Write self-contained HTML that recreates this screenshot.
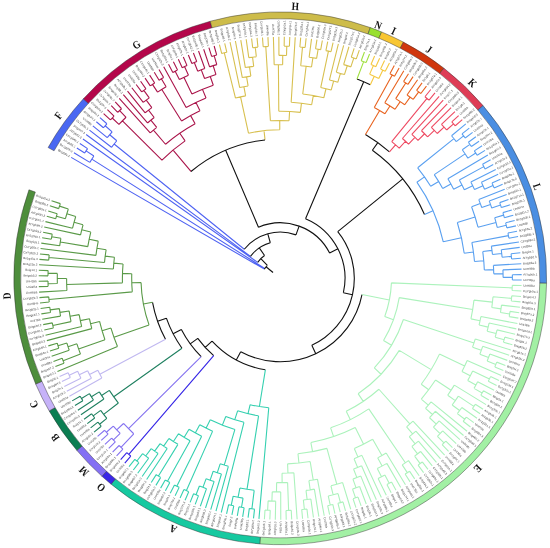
<!DOCTYPE html><html><head><meta charset="utf-8"><style>html,body{margin:0;padding:0;background:#fff}svg{display:block}</style></head><body>
<svg width="550" height="548" viewBox="0 0 550 548">
<rect width="550" height="548" fill="#fff"/>
<path d="M48.11 147.52A266.4 266.4 0 0 1 83.37 98.79L88.39 103.37A259.6 259.6 0 0 0 54.04 150.85Z" fill="#4a68f2" stroke="#333" stroke-opacity="0.65" stroke-width="0.7"/>
<path d="M83.37 98.79A266.4 266.4 0 0 1 210.23 21.25L212.01 27.81A259.6 259.6 0 0 0 88.39 103.37Z" fill="#b4064a" stroke="#333" stroke-opacity="0.65" stroke-width="0.7"/>
<path d="M210.23 21.25A266.4 266.4 0 0 1 370.32 27.61L368.02 34.01A259.6 259.6 0 0 0 212.01 27.81Z" fill="#cdbc4a" stroke="#333" stroke-opacity="0.65" stroke-width="0.7"/>
<path d="M370.32 27.61A266.4 266.4 0 0 1 381.57 31.94L378.98 38.23A259.6 259.6 0 0 0 368.02 34.01Z" fill="#99e030" stroke="#333" stroke-opacity="0.65" stroke-width="0.7"/>
<path d="M381.57 31.94A266.4 266.4 0 0 1 403.42 42.11L400.27 48.14A259.6 259.6 0 0 0 378.98 38.23Z" fill="#f8c632" stroke="#333" stroke-opacity="0.65" stroke-width="0.7"/>
<path d="M403.42 42.11A266.4 266.4 0 0 1 443.92 68.15L439.74 73.51A259.6 259.6 0 0 0 400.27 48.14Z" fill="#d0360c" stroke="#333" stroke-opacity="0.65" stroke-width="0.7"/>
<path d="M443.92 68.15A266.4 266.4 0 0 1 483.04 105.6L477.86 110A259.6 259.6 0 0 0 439.74 73.51Z" fill="#de3c56" stroke="#333" stroke-opacity="0.65" stroke-width="0.7"/>
<path d="M483.04 105.6A266.4 266.4 0 0 1 546.55 283.27L539.75 283.14A259.6 259.6 0 0 0 477.86 110Z" fill="#4a8ee2" stroke="#333" stroke-opacity="0.65" stroke-width="0.7"/>
<path d="M546.55 283.27A266.4 266.4 0 0 1 259.75 543.91L260.27 537.13A259.6 259.6 0 0 0 539.75 283.14Z" fill="#a2f0a4" stroke="#333" stroke-opacity="0.65" stroke-width="0.7"/>
<path d="M259.75 543.91A266.4 266.4 0 0 1 111.1 484.15L115.41 478.89A259.6 259.6 0 0 0 260.27 537.13Z" fill="#16c9a0" stroke="#333" stroke-opacity="0.65" stroke-width="0.7"/>
<path d="M111.1 484.15A266.4 266.4 0 0 1 101.96 476.29L106.51 471.23A259.6 259.6 0 0 0 115.41 478.89Z" fill="#3a26e6" stroke="#333" stroke-opacity="0.65" stroke-width="0.7"/>
<path d="M101.96 476.29A266.4 266.4 0 0 1 76.81 450.35L82 445.95A259.6 259.6 0 0 0 106.51 471.23Z" fill="#8470f4" stroke="#333" stroke-opacity="0.65" stroke-width="0.7"/>
<path d="M76.81 450.35A266.4 266.4 0 0 1 49.16 410.92L55.06 407.54A259.6 259.6 0 0 0 82 445.95Z" fill="#0c7e52" stroke="#333" stroke-opacity="0.65" stroke-width="0.7"/>
<path d="M49.16 410.92A266.4 266.4 0 0 1 35.66 383.99L41.91 381.3A259.6 259.6 0 0 0 55.06 407.54Z" fill="#c6b2f8" stroke="#333" stroke-opacity="0.65" stroke-width="0.7"/>
<path d="M35.66 383.99A266.4 266.4 0 0 1 28.93 189.8L35.34 192.06A259.6 259.6 0 0 0 41.91 381.3Z" fill="#4e8e3c" stroke="#333" stroke-opacity="0.65" stroke-width="0.7"/>
<path d="M84.68 153.05A232.2 232.2 0 0 1 87.56 148.66M84.68 153.05L76.84 148.04M87.56 148.66L79.84 143.47M89.83 162.35A222.9 222.9 0 0 1 93.88 155.95M89.83 162.35L73.95 152.67M93.88 155.95L86.1 150.85M103.42 127.74A232.2 232.2 0 0 1 106.88 123.78M103.42 127.74L96.34 121.71M106.88 123.78L99.93 117.59M107.28 137.65A222.9 222.9 0 0 1 112.15 131.86M107.28 137.65L92.85 125.91M112.15 131.86L105.14 125.75M111.49 147.3A213.6 213.6 0 0 1 116.8 140.73M111.49 147.3L89.45 130.19M116.8 140.73L109.69 134.74M244.28 249.25L114.11 143.99M250.55 256.33L86.15 134.54M257.66 262.38L82.95 138.97M264.36 269.14L71.16 157.37M264.73 268.52L91.83 159.13" fill="none" stroke="#4f63f2" stroke-width="1.1" stroke-linecap="butt"/>
<path d="M110.42 119.9A232.2 232.2 0 0 1 114.04 116.1M110.42 119.9L103.62 113.56M114.04 116.1L107.39 109.6M117.75 112.38A232.2 232.2 0 0 1 121.55 108.75M117.75 112.38L111.25 105.74M121.55 108.75L115.2 101.96M118.95 124.41A222.9 222.9 0 0 1 126.07 117.27M118.95 124.41L112.22 117.99M126.07 117.27L119.64 110.56M141.7 91.93A232.2 232.2 0 0 1 145.95 88.84M141.7 91.93L136.16 84.46M145.95 88.84L140.58 81.25M143.24 102.44A222.9 222.9 0 0 1 149.28 97.9M143.24 102.44L131.81 87.77M149.28 97.9L143.82 90.37M145.17 112.79A213.6 213.6 0 0 1 151.83 107.58M145.17 112.79L127.53 91.18M151.83 107.58L146.24 100.15M147.5 122.96A204.3 204.3 0 0 1 154.21 117.47M147.5 122.96L123.34 94.68M154.21 117.47L148.47 110.15M150.22 132.94A195 195 0 0 1 156.72 127.38M150.22 132.94L119.23 98.27M156.72 127.38L150.83 120.18M150.27 85.85A232.2 232.2 0 0 1 154.66 82.96M150.27 85.85L145.07 78.14M154.66 82.96L149.63 75.14M159.11 80.17A232.2 232.2 0 0 1 163.63 77.48M159.11 80.17L154.26 72.24M163.63 77.48L158.96 69.44M157.58 92.16A222.9 222.9 0 0 1 166.12 86.8M157.58 92.16L152.46 84.39M166.12 86.8L161.36 78.81M172.83 72.42A232.2 232.2 0 0 1 177.51 70.04M172.83 72.42L168.53 64.17M177.51 70.04L173.4 61.7M182.25 67.77A232.2 232.2 0 0 1 187.04 65.61M182.25 67.77L178.33 59.34M187.04 65.61L183.31 57.09M179.37 79.51A222.9 222.9 0 0 1 188.47 75.15M179.37 79.51L175.17 71.21M188.47 75.15L184.64 66.68M191.88 63.55A232.2 232.2 0 0 1 196.76 61.61M191.88 63.55L188.34 54.95M196.76 61.61L193.41 52.93M197.75 71.21A222.9 222.9 0 0 1 204.82 68.53M197.75 71.21L194.31 62.57M204.82 68.53L198.53 51.03M211.64 56.45A232.2 232.2 0 0 1 216.68 54.96M211.64 56.45L208.9 47.57M216.68 54.96L214.14 46.01M209.59 66.88A222.9 222.9 0 0 1 216.8 64.61M209.59 66.88L203.7 49.24M216.8 64.61L214.16 55.69M204.57 78.54A213.6 213.6 0 0 1 215.98 74.58M204.57 78.54L201.28 69.84M215.98 74.58L213.19 65.71M191.93 94.05A204.3 204.3 0 0 1 213.29 85.27M191.93 94.05L183.89 77.28M213.29 85.27L210.25 76.48M186.14 107.48A195 195 0 0 1 206.03 97.96M186.14 107.48L163.71 66.75M206.03 97.96L202.49 89.36M181.58 120.95A185.7 185.7 0 0 1 199.97 110.83M181.58 120.95L161.82 89.43M199.97 110.83L195.95 102.44M165.53 144.26A176.4 176.4 0 0 1 195.11 123.78M165.53 144.26L153.44 130.12M195.11 123.78L190.63 115.63M161.95 160.23A167.1 167.1 0 0 1 185.09 140.91M161.95 160.23L122.47 120.8M185.09 140.91L179.8 133.26M190.97 171.46L173.09 150.05" fill="none" stroke="#aa144a" stroke-width="1.1" stroke-linecap="butt"/>
<path d="M221.75 53.58A232.2 232.2 0 0 1 226.85 52.31M221.75 53.58L219.41 44.58M226.85 52.31L224.71 43.26M252.7 47.73A232.2 232.2 0 0 1 257.92 47.17M252.7 47.73L251.6 38.5M257.92 47.17L257.03 37.91M248.8 57.62A222.9 222.9 0 0 1 256.31 56.68M248.8 57.62L246.18 39.21M256.31 56.68L255.31 47.44M245.33 67.56A213.6 213.6 0 0 1 253.7 66.35M245.33 67.56L240.78 40.04M253.7 66.35L252.55 57.12M242.3 77.55A204.3 204.3 0 0 1 250.85 76.12M242.3 77.55L235.4 40.99M250.85 76.12L249.51 66.92M239.7 87.55A195 195 0 0 1 248.1 85.96M239.7 87.55L230.04 42.07M248.1 85.96L246.57 76.79M235.49 98.06A185.7 185.7 0 0 1 245.62 95.85M235.49 98.06L224.3 52.93M245.62 95.85L243.89 86.71M263.16 46.73A232.2 232.2 0 0 1 268.4 46.4M263.16 46.73L262.47 37.45M268.4 46.4L267.93 37.11M284.16 46.13A232.2 232.2 0 0 1 289.41 46.28M284.16 46.13L284.31 36.84M289.41 46.28L289.78 36.99M278.95 55.4A222.9 222.9 0 0 1 286.52 55.49M278.95 55.4L278.85 36.8M286.52 55.49L286.78 46.19M274.17 64.79A213.6 213.6 0 0 1 282.63 64.71M274.17 64.79L273.39 36.9M282.63 64.71L282.74 55.41M299.89 46.94A232.2 232.2 0 0 1 305.12 47.44M299.89 46.94L300.68 37.67M305.12 47.44L306.12 38.19M315.54 48.8A232.2 232.2 0 0 1 320.72 49.66M315.54 48.8L316.95 39.61M320.72 49.66L322.34 40.51M309.13 57.29A222.9 222.9 0 0 1 316.61 58.39M309.13 57.29L311.54 38.84M316.61 58.39L318.13 49.22M300.72 65.69A213.6 213.6 0 0 1 311.51 67.01M300.72 65.69L302.51 47.17M311.51 67.01L312.88 57.81M325.88 50.64A232.2 232.2 0 0 1 331.02 51.73M325.88 50.64L327.71 41.52M331.02 51.73L333.06 42.66M351.29 57.25A232.2 232.2 0 0 1 356.27 58.92M351.29 57.25L354.14 48.4M356.27 58.92L359.32 50.13M343.63 64.61A222.9 222.9 0 0 1 350.84 66.89M343.63 64.61L348.92 46.78M350.84 66.89L353.79 58.07M336.33 72.21A213.6 213.6 0 0 1 344.44 74.59M336.33 72.21L343.66 45.29M344.44 74.59L347.24 65.72M329.41 80.02A204.3 204.3 0 0 1 337.78 82.28M329.41 80.02L338.38 43.91M337.78 82.28L340.4 73.36M320.72 87.56A195 195 0 0 1 331.18 90.08M320.72 87.56L328.46 51.17M331.18 90.08L333.61 81.1M302.74 93.97A185.7 185.7 0 0 1 323.79 97.79M302.74 93.97L306.13 66.28M323.79 97.79L325.97 88.75M291.18 102.24A176.4 176.4 0 0 1 311.66 104.73M291.18 102.24L295.23 37.27M311.66 104.73L313.32 95.58M278.79 111.21A167.1 167.1 0 0 1 300.34 112.42M278.79 111.21L278.4 64.71M300.34 112.42L301.46 103.19M270.4 120.8A157.8 157.8 0 0 1 289.06 120.75M270.4 120.8L265.78 46.55M289.06 120.75L289.58 111.46M248.49 133.23A148.5 148.5 0 0 1 279.76 129.8M248.49 133.23L240.54 96.88M279.76 129.8L279.73 120.5M265.04 139.93L264.03 130.68" fill="none" stroke="#d8c050" stroke-width="1.1" stroke-linecap="butt"/>
<path d="M190.97 171.46A139.2 139.2 0 0 1 265.04 139.93M356.99 78.98A213.6 213.6 0 0 1 370.33 84.65M365.44 134.57A167.1 167.1 0 0 1 389.45 151.86M372.39 150.23A157.8 157.8 0 0 1 424.5 214.45M372.39 150.23L377.82 142.68M165.5 339.27A129.9 129.9 0 0 1 152.53 302.29M181.95 348.24A120.6 120.6 0 0 1 166.39 318.19M166.39 318.19L157.61 321.27M201.18 356.68A111.3 111.3 0 0 1 181.37 329.49M181.37 329.49L173.11 333.77M213.69 355.63A102 102 0 0 1 197.76 338.36M197.76 338.36L190.24 343.84M265.36 369.8A92.7 92.7 0 0 1 212.06 341.15M212.06 341.15L205.22 347.46M362 294.56A83.4 83.4 0 0 1 240.71 351.76M240.71 351.76L236.3 359.95M337.74 231.61A74.1 74.1 0 0 1 311.81 345.32M337.74 231.61L402.73 178.86M311.81 345.32L315.77 353.73M305.53 218.66A64.8 64.8 0 0 1 343.38 292.71M305.53 218.66L363.71 81.7M343.38 292.71L352.45 294.78M258.46 227.23A55.5 55.5 0 0 1 329.62 253.04M258.46 227.23L225.68 150.22M329.62 253.04L337.9 248.81M244.28 249.25A46.2 46.2 0 0 1 295.95 234.87M295.95 234.87L299.12 226.13M250.55 256.33A36.9 36.9 0 0 1 270.31 242.75M270.31 242.75L267.81 233.79M257.66 262.38A27.6 27.6 0 0 1 264.56 255.56M264.56 255.56L259.29 247.89M264.36 269.14A18.3 18.3 0 0 1 267.34 265.28M267.34 265.28L260.81 258.66" fill="none" stroke="#111111" stroke-width="1.1" stroke-linecap="butt"/>
<path d="M361.22 60.69A232.2 232.2 0 0 1 366.12 62.58M361.22 60.69L364.46 51.98M366.12 62.58L369.56 53.94M356.99 78.98L363.67 61.62" fill="none" stroke="#a0e040" stroke-width="1.1" stroke-linecap="butt"/>
<path d="M370.98 64.58A232.2 232.2 0 0 1 375.79 66.69M370.98 64.58L374.61 56.02M375.79 66.69L379.62 58.21M380.55 68.9A232.2 232.2 0 0 1 385.26 71.23M380.55 68.9L384.57 60.52M385.26 71.23L389.47 62.93M369.66 74.14A222.9 222.9 0 0 1 378.8 78.39M369.66 74.14L373.39 65.62M378.8 78.39L382.91 70.05M370.33 84.65L374.25 76.21" fill="none" stroke="#f5c840" stroke-width="1.1" stroke-linecap="butt"/>
<path d="M389.92 73.66A232.2 232.2 0 0 1 394.52 76.19M389.92 73.66L394.32 65.46M394.52 76.19L399.1 68.1M403.55 81.57A232.2 232.2 0 0 1 407.97 84.41M403.55 81.57L408.49 73.69M407.97 84.41L413.08 76.65M416.61 90.39A232.2 232.2 0 0 1 420.82 93.52M416.61 90.39L422.07 82.86M420.82 93.52L426.45 86.12M407.03 95A222.9 222.9 0 0 1 413.17 99.41M407.03 95L417.61 79.7M413.17 99.41L418.72 91.94M395.71 98.62A213.6 213.6 0 0 1 404.7 104.73M395.71 98.62L405.76 82.98M404.7 104.73L410.12 97.18M384.78 102.8A204.3 204.3 0 0 1 395.02 109.31M384.78 102.8L403.83 70.84M395.02 109.31L400.24 101.62M374.28 107.5A195 195 0 0 1 384.95 113.82M374.28 107.5L392.23 74.91M384.95 113.82L389.95 105.98M365.44 134.57L379.67 110.58" fill="none" stroke="#e8621e" stroke-width="1.1" stroke-linecap="butt"/>
<path d="M424.97 96.75A232.2 232.2 0 0 1 429.04 100.07M424.97 96.75L430.76 89.48M429.04 100.07L435 92.94M451.79 121.86A232.2 232.2 0 0 1 455.28 125.78M451.79 121.86L458.66 115.59M455.28 125.78L462.29 119.67M441.47 124.43A222.9 222.9 0 0 1 446.6 129.99M441.47 124.43L454.93 111.59M446.6 129.99L453.55 123.81M431.37 127.39A213.6 213.6 0 0 1 437.23 133.5M431.37 127.39L451.12 107.68M437.23 133.5L444.06 127.19M421.49 130.73A204.3 204.3 0 0 1 427.62 136.86M421.49 130.73L447.21 103.86M427.62 136.86L434.33 130.42M411.83 134.43A195 195 0 0 1 418.01 140.34M411.83 134.43L443.22 100.13M418.01 140.34L424.58 133.76M402.42 138.49A185.7 185.7 0 0 1 408.53 144.08M402.42 138.49L439.15 96.48M408.53 144.08L414.96 137.35M391.73 141.63A176.4 176.4 0 0 1 399.23 148.11M391.73 141.63L427.01 98.4M399.23 148.11L405.51 141.25M389.45 151.86L395.53 144.82" fill="none" stroke="#ee4a62" stroke-width="1.1" stroke-linecap="butt"/>
<path d="M462 133.85A232.2 232.2 0 0 1 465.22 138M462 133.85L469.28 128.07M465.22 138L472.63 132.38M451.54 135.73A222.9 222.9 0 0 1 456.28 141.62M451.54 135.73L465.84 123.83M456.28 141.62L463.62 135.92M468.35 142.22A232.2 232.2 0 0 1 471.38 146.52M468.35 142.22L475.89 136.77M471.38 146.52L479.04 141.24M474.31 150.87A232.2 232.2 0 0 1 477.15 155.3M474.31 150.87L482.09 145.77M477.15 155.3L485.03 150.37M462.28 149.73A222.9 222.9 0 0 1 467.91 158.09M462.28 149.73L469.88 144.36M467.91 158.09L475.74 153.08M482.51 164.33A232.2 232.2 0 0 1 485.03 168.94M482.51 164.33L490.61 159.77M485.03 168.94L493.24 164.56M491.98 183.08A232.2 232.2 0 0 1 494.08 187.9M491.98 183.08L500.46 179.27M494.08 187.9L502.65 184.28M481.38 182.32A222.9 222.9 0 0 1 484.52 189.2M481.38 182.32L498.16 174.31M484.52 189.2L493.04 185.48M470.85 181.99A213.6 213.6 0 0 1 474.52 189.61M470.85 181.99L495.76 169.41M474.52 189.61L482.98 185.75M459.32 180.05A204.3 204.3 0 0 1 464.34 189.81M459.32 180.05L483.78 166.63M464.34 189.81L472.72 185.78M447.89 178.77A195 195 0 0 1 453.63 189.15M447.89 178.77L487.87 155.04M453.63 189.15L461.9 184.89M434.28 174.64A185.7 185.7 0 0 1 442.7 188.42M434.28 174.64L465.14 153.88M442.7 188.42L450.84 183.92M417.69 167.79A176.4 176.4 0 0 1 430.7 186.29M417.69 167.79L453.93 138.65M430.7 186.29L438.64 181.44M499.72 202.61A232.2 232.2 0 0 1 501.37 207.6M499.72 202.61L508.51 199.58M501.37 207.6L510.23 204.77M489.23 200.9A222.9 222.9 0 0 1 491.73 208.03M489.23 200.9L506.67 194.44M491.73 208.03L500.56 205.1M478.78 199.61A213.6 213.6 0 0 1 481.74 207.53M478.78 199.61L504.72 189.33M481.74 207.53L490.51 204.45M502.92 212.62A232.2 232.2 0 0 1 504.35 217.67M502.92 212.62L511.84 209.99M504.35 217.67L513.32 215.25M505.66 222.76A232.2 232.2 0 0 1 506.86 227.88M505.66 222.76L514.69 220.54M506.86 227.88L515.94 225.86M494.7 217.67A222.9 222.9 0 0 1 497.22 227.44M494.7 217.67L503.65 215.14M497.22 227.44L506.27 225.32M471.58 206.81A204.3 204.3 0 0 1 478 227.19M471.58 206.81L480.3 203.56M478 227.19L496.01 222.54M507.94 233.02A232.2 232.2 0 0 1 508.91 238.18M507.94 233.02L517.06 231.2M508.91 238.18L518.07 236.57M511.1 253.78A232.2 232.2 0 0 1 511.6 259.01M511.1 253.78L520.35 252.8M511.6 259.01L520.87 258.24M501.26 249.76A222.9 222.9 0 0 1 502.11 257.27M501.26 249.76L519.71 247.38M502.11 257.27L511.36 256.4M491.37 246.16A213.6 213.6 0 0 1 492.48 254.55M491.37 246.16L518.95 241.97M492.48 254.55L501.72 253.51M512.37 274.75A232.2 232.2 0 0 1 512.39 280.01M512.37 274.75L521.67 274.61M512.39 280.01L521.69 280.07M502.94 269.85A222.9 222.9 0 0 1 503.1 277.42M502.94 269.85L521.53 269.15M503.1 277.42L512.4 277.38M493.41 265.38A213.6 213.6 0 0 1 493.75 273.83M493.41 265.38L521.26 263.69M493.75 273.83L503.05 273.63M482.74 251.57A204.3 204.3 0 0 1 484.33 269.98M482.74 251.57L491.96 250.35M484.33 269.98L493.62 269.6M471.87 242.44A195 195 0 0 1 474.48 261.55M471.87 242.44L508.44 235.6M474.48 261.55L483.75 260.76M457.32 222.51A185.7 185.7 0 0 1 464.2 253.22M457.32 222.51L475.06 216.92M464.2 253.22L473.41 251.96M416.89 182.18A167.1 167.1 0 0 1 443.26 241.78M416.89 182.18L424.49 176.83M443.26 241.78L461.41 237.72M424.5 214.45L433.01 210.68" fill="none" stroke="#5aa0f0" stroke-width="1.1" stroke-linecap="butt"/>
<path d="M512.3 285.26A232.2 232.2 0 0 1 512.08 290.51M512.3 285.26L521.59 285.54M512.08 290.51L521.37 291M511.74 295.75A232.2 232.2 0 0 1 511.29 300.98M511.74 295.75L521.02 296.45M511.29 300.98L520.54 301.89M510.03 311.41A232.2 232.2 0 0 1 509.22 316.6M510.03 311.41L519.23 312.74M509.22 316.6L518.39 318.14M501.48 305.09A222.9 222.9 0 0 1 500.45 312.58M501.48 305.09L519.95 307.32M500.45 312.58L509.64 314.01M493 296.76A213.6 213.6 0 0 1 491.79 307.56M493 296.76L511.53 298.37M491.79 307.56L501 308.84M504.82 337.14A232.2 232.2 0 0 1 503.43 342.21M504.82 337.14L513.82 339.5M503.43 342.21L512.37 344.77M497.05 329.9A222.9 222.9 0 0 1 495.17 337.22M497.05 329.9L515.14 334.2M495.17 337.22L504.14 339.68M489.06 323.03A213.6 213.6 0 0 1 487.13 331.26M489.06 323.03L516.35 328.87M487.13 331.26L496.14 333.57M480.89 316.55A204.3 204.3 0 0 1 479.08 325.03M480.89 316.55L517.43 323.52M479.08 325.03L488.14 327.15M473.98 300.09A195 195 0 0 1 470.93 318.86M473.98 300.09L492.46 302.17M470.93 318.86L480.03 320.8M496.74 362.12A232.2 232.2 0 0 1 494.79 367M496.74 362.12L505.41 365.48M494.79 367L503.38 370.55M489.84 354.04A222.9 222.9 0 0 1 487.15 361.11M489.84 354.04L507.33 360.36M487.15 361.11L495.78 364.57M482.68 346.32A213.6 213.6 0 0 1 479.83 354.28M482.68 346.32L509.13 355.2M479.83 354.28L488.52 357.59M475.29 338.96A204.3 204.3 0 0 1 472.54 347.18M475.29 338.96L510.81 350.01M472.54 347.18L481.29 350.31M490.56 376.62A232.2 232.2 0 0 1 488.28 381.35M490.56 376.62L498.98 380.56M488.28 381.35L496.61 385.48M483.41 390.66A232.2 232.2 0 0 1 480.81 395.23M483.41 390.66L491.54 395.16M480.81 395.23L488.85 399.91M477.66 381.72A222.9 222.9 0 0 1 474.03 388.36M477.66 381.72L494.13 390.35M474.03 388.36L482.12 392.95M472.67 370.93A213.6 213.6 0 0 1 467.71 380.6M472.67 370.93L489.43 378.99M467.71 380.6L475.87 385.05M467.19 360.59A204.3 204.3 0 0 1 461.98 371.55M467.19 360.59L501.24 375.58M461.98 371.55L470.25 375.79M475.32 404.18A232.2 232.2 0 0 1 472.42 408.56M475.32 404.18L483.13 409.22M472.42 408.56L480.12 413.78M466.33 417.12A232.2 232.2 0 0 1 463.14 421.3M466.33 417.12L473.79 422.68M463.14 421.3L470.47 427.03M461.84 407.49A222.9 222.9 0 0 1 457.36 413.58M461.84 407.49L477 418.27M457.36 413.58L464.75 419.22M458.37 396.12A213.6 213.6 0 0 1 452.14 405.03M458.37 396.12L473.88 406.38M452.14 405.03L459.63 410.55M454.33 385.14A204.3 204.3 0 0 1 447.69 395.29M454.33 385.14L486.04 404.6M447.69 395.29L455.31 400.62M445.83 441.04A232.2 232.2 0 0 1 442.11 444.74M445.83 441.04L452.46 447.55M442.11 444.74L448.59 451.41M442.69 430.88A222.9 222.9 0 0 1 437.42 436.31M442.69 430.88L456.25 443.61M437.42 436.31L443.98 442.9M439.18 420.96A213.6 213.6 0 0 1 433.41 427.14M439.18 420.96L459.94 439.59M433.41 427.14L440.08 433.62M435.3 411.27A204.3 204.3 0 0 1 429.53 417.73M435.3 411.27L463.55 435.48M429.53 417.73L436.32 424.07M431.08 401.84A195 195 0 0 1 425.52 408.33M431.08 401.84L467.06 431.29M425.52 408.33L432.45 414.53M435.53 380.07A185.7 185.7 0 0 1 421.27 399.06M435.53 380.07L451.09 390.27M421.27 399.06L428.33 405.11M439.47 354.12A176.4 176.4 0 0 1 421.27 384.21M439.47 354.12L464.67 366.11M421.27 384.21L428.7 389.8M422.28 461.95A232.2 232.2 0 0 1 418.09 465.12M422.28 461.95L427.97 469.31M418.09 465.12L423.62 472.6M420.55 451.47A222.9 222.9 0 0 1 414.59 456.13M420.55 451.47L432.26 465.92M414.59 456.13L420.2 463.55M418.41 441.16A213.6 213.6 0 0 1 411.86 446.5M418.41 441.16L436.46 462.43M411.86 446.5L417.59 453.82M415.88 431.04A204.3 204.3 0 0 1 409.28 436.65M415.88 431.04L440.59 458.85M409.28 436.65L415.16 443.86M412.97 421.12A195 195 0 0 1 406.59 426.8M412.97 421.12L444.63 455.17M406.59 426.8L412.61 433.88M409.5 471.17A232.2 232.2 0 0 1 405.1 474.04M409.5 471.17L414.68 478.89M405.1 474.04L410.11 481.88M408.48 460.59A222.9 222.9 0 0 1 402.22 464.84M408.48 460.59L419.18 475.8M402.22 464.84L407.31 472.62M391.54 482.06A232.2 232.2 0 0 1 386.9 484.53M391.54 482.06L396 490.23M386.9 484.53L391.18 492.79M384.86 475.1A222.9 222.9 0 0 1 378.12 478.54M384.86 475.1L389.23 483.31M378.12 478.54L386.3 495.25M386.84 463.38A213.6 213.6 0 0 1 377.28 468.56M386.84 463.38L400.77 487.55M377.28 468.56L381.51 476.85M386.17 452.97A204.3 204.3 0 0 1 377.66 457.86M386.17 452.97L405.47 484.77M377.66 457.86L382.09 466.03M358.01 497.07A232.2 232.2 0 0 1 353.04 498.78M358.01 497.07L361.13 505.84M353.04 498.78L355.96 507.61M359.63 486.57A222.9 222.9 0 0 1 352.51 489.14M359.63 486.57L366.25 503.95M352.51 489.14L355.53 497.94M360.81 476.11A213.6 213.6 0 0 1 352.92 479.14M360.81 476.11L371.34 501.94M352.92 479.14L356.08 487.89M361.56 465.7A204.3 204.3 0 0 1 353.54 468.98M361.56 465.7L376.37 499.82M353.54 468.98L356.88 477.66M361.88 455.37A195 195 0 0 1 354.04 458.78M361.88 455.37L381.36 497.59M354.04 458.78L357.57 467.38M372.68 439.33A185.7 185.7 0 0 1 354.27 448.59M372.68 439.33L381.94 455.46M354.27 448.59L357.98 457.12M342.99 501.85A232.2 232.2 0 0 1 337.92 503.21M342.99 501.85L345.51 510.8M337.92 503.21L340.23 512.22M332.82 504.46A232.2 232.2 0 0 1 327.69 505.59M332.82 504.46L334.93 513.52M327.69 505.59L329.59 514.7M338.05 493.56A222.9 222.9 0 0 1 328.25 495.96M338.05 493.56L340.46 502.54M328.25 495.96L330.26 505.04M342.6 482.58A213.6 213.6 0 0 1 330.95 485.78M342.6 482.58L350.75 509.26M330.95 485.78L333.16 494.82M306.95 508.95A232.2 232.2 0 0 1 301.73 509.5M306.95 508.95L308.02 518.19M301.73 509.5L302.59 518.76M310.88 499.08A222.9 222.9 0 0 1 303.38 499.99M310.88 499.08L313.44 517.5M303.38 499.99L304.34 509.24M314.38 489.15A213.6 213.6 0 0 1 306.01 490.33M314.38 489.15L318.85 516.69M306.01 490.33L307.13 499.57M317.45 479.18A204.3 204.3 0 0 1 308.9 480.57M317.45 479.18L324.23 515.75M308.9 480.57L310.2 489.78M291.25 510.24A232.2 232.2 0 0 1 286 510.43M291.25 510.24L291.69 519.53M286 510.43L286.23 519.72M270.24 510.29A232.2 232.2 0 0 1 265 510M270.24 510.29L269.84 519.58M265 510L264.39 519.28M275.68 501.15A222.9 222.9 0 0 1 268.12 500.87M275.68 501.15L275.3 519.75M268.12 500.87L267.62 510.16M280.7 491.9A213.6 213.6 0 0 1 272.25 491.75M280.7 491.9L280.77 519.8M272.25 491.75L271.9 501.05M287.61 482.47A204.3 204.3 0 0 1 276.64 482.57M287.61 482.47L288.62 510.35M276.64 482.57L276.47 491.87M293.88 472.82A195 195 0 0 1 282.04 473.29M293.88 472.82L297.14 519.2M282.04 473.29L282.12 482.59M310.18 461.56A185.7 185.7 0 0 1 287.59 463.85M310.18 461.56L313.18 479.92M287.59 463.85L287.96 473.15M326.94 448.39A176.4 176.4 0 0 1 297.98 453.8M326.94 448.39L336.8 484.26M297.98 453.8L298.92 463.05M355.25 427.6A167.1 167.1 0 0 1 310.87 442.56M355.25 427.6L363.6 444.22M310.87 442.56L312.58 451.7M368.81 408.87A157.8 157.8 0 0 1 330.62 427.83M368.81 408.87L405.37 462.74M330.62 427.83L333.59 436.64M378.9 389.25A148.5 148.5 0 0 1 346.22 411.32M378.9 389.25L409.81 423.99M346.22 411.32L350.36 419.65M399.29 350.36A139.2 139.2 0 0 1 358.09 393.67M399.29 350.36L431.12 369.62M358.09 393.67L363.3 401.37M403.4 319.49A129.9 129.9 0 0 1 374.31 367.84M403.4 319.49L473.96 343.08M374.31 367.84L381.05 374.25M399.24 297.61A120.6 120.6 0 0 1 383.54 340.47M399.24 297.61L472.69 309.51M383.54 340.47L391.51 345.26M391.41 282.89A111.3 111.3 0 0 1 384.71 316.59M391.41 282.89L512.2 287.88M384.71 316.59L393.44 319.79M362 294.56L389.36 300" fill="none" stroke="#acf2bc" stroke-width="1.1" stroke-linecap="butt"/>
<path d="M254.53 509.08A232.2 232.2 0 0 1 249.32 508.44M254.53 509.08L253.5 518.32M249.32 508.44L248.08 517.65M244.12 507.68A232.2 232.2 0 0 1 238.94 506.8M244.12 507.68L242.67 516.87M238.94 506.8L237.29 515.96M233.78 505.81A232.2 232.2 0 0 1 228.64 504.7M233.78 505.81L231.92 514.92M228.64 504.7L226.58 513.77M243.07 498.09A222.9 222.9 0 0 1 233.17 496.18M243.07 498.09L241.53 507.26M233.17 496.18L231.21 505.27M254.19 490.31A213.6 213.6 0 0 1 239.87 488.06M254.19 490.31L251.92 508.77M239.87 488.06L238.11 497.19M198.48 495.64A232.2 232.2 0 0 1 193.58 493.74M198.48 495.64L195.21 504.35M193.58 493.74L190.11 502.37M206.49 488.66A222.9 222.9 0 0 1 199.4 486.04M206.49 488.66L200.34 506.21M199.4 486.04L196.03 494.71M214.15 481.43A213.6 213.6 0 0 1 206.16 478.66M214.15 481.43L205.52 507.96M206.16 478.66L202.93 487.38M221.43 473.97A204.3 204.3 0 0 1 213.19 471.3M221.43 473.97L210.73 509.59M213.19 471.3L210.14 480.08M228.35 466.28A195 195 0 0 1 220.16 463.83M228.35 466.28L215.98 511.11M220.16 463.83L217.3 472.67M188.73 491.72A232.2 232.2 0 0 1 183.93 489.6M188.73 491.72L185.07 500.27M183.93 489.6L180.07 498.06M179.17 487.37A232.2 232.2 0 0 1 174.47 485.03M179.17 487.37L175.12 495.74M174.47 485.03L170.23 493.31M169.82 482.59A232.2 232.2 0 0 1 165.22 480.04M169.82 482.59L165.4 490.77M165.22 480.04L160.62 488.12M160.69 477.38A232.2 232.2 0 0 1 156.22 474.63M160.69 477.38L155.9 485.36M156.22 474.63L151.25 482.49M138.98 462.62A232.2 232.2 0 0 1 134.85 459.38M138.98 462.62L133.32 470M134.85 459.38L129.02 466.63M148.67 458.26A222.9 222.9 0 0 1 142.64 453.69M148.67 458.26L137.7 473.28M142.64 453.69L136.9 461.01M158.09 453.56A213.6 213.6 0 0 1 151.25 448.59M158.09 453.56L142.15 476.45M151.25 448.59L145.64 456M167.23 448.53A204.3 204.3 0 0 1 160.12 443.58M167.23 448.53L146.66 479.52M160.12 443.58L154.65 451.11M177.95 444.34A195 195 0 0 1 168.95 438.45M177.95 444.34L158.44 476.02M168.95 438.45L163.65 446.09M190.08 440.67A185.7 185.7 0 0 1 178.5 433.68M190.08 440.67L167.51 481.32M178.5 433.68L173.41 441.46M201.66 436.25A176.4 176.4 0 0 1 189.03 429.32M201.66 436.25L176.81 486.21M189.03 429.32L184.23 437.28M212.64 431.13A167.1 167.1 0 0 1 199.75 424.76M212.64 431.13L186.32 490.68M199.75 424.76L195.28 432.91M234.92 429.46A157.8 157.8 0 0 1 210.25 419.75M234.92 429.46L224.24 465.1M210.25 419.75L206.13 428.09M243.96 422.31A148.5 148.5 0 0 1 225.79 416.47M243.96 422.31L221.27 512.5M225.79 416.47L222.38 425.12M258.57 415.81A139.2 139.2 0 0 1 237.62 410.83M258.57 415.81L247.01 489.31M237.62 410.83L234.78 419.68M268.76 407.7A129.9 129.9 0 0 1 250.15 404.68M268.76 407.7L258.94 518.86M250.15 404.68L248 413.72M265.36 369.8L259.4 406.52" fill="none" stroke="#35d0b0" stroke-width="1.1" stroke-linecap="butt"/>
<path d="M130.79 456.04A232.2 232.2 0 0 1 126.8 452.62M130.79 456.04L124.8 463.16M126.8 452.62L120.66 459.6M213.69 355.63L128.79 454.34" fill="none" stroke="#3424e6" stroke-width="1.1" stroke-linecap="butt"/>
<path d="M122.9 449.1A232.2 232.2 0 0 1 119.08 445.5M122.9 449.1L116.6 455.94M119.08 445.5L112.62 452.2M115.33 441.81A232.2 232.2 0 0 1 111.68 438.04M115.33 441.81L108.73 448.36M111.68 438.04L104.93 444.44M108.11 434.19A232.2 232.2 0 0 1 104.62 430.25M108.11 434.19L101.21 440.43M104.62 430.25L97.59 436.34M120.17 433.46A222.9 222.9 0 0 1 113.32 426.07M120.17 433.46L113.5 439.94M113.32 426.07L106.35 432.23M133.73 433.77A213.6 213.6 0 0 1 123.52 423.48M133.73 433.77L120.98 447.31M123.52 423.48L116.7 429.8M201.18 356.68L128.54 428.71" fill="none" stroke="#8472f0" stroke-width="1.1" stroke-linecap="butt"/>
<path d="M101.23 426.24A232.2 232.2 0 0 1 97.93 422.16M101.23 426.24L94.06 432.17M97.93 422.16L90.63 427.92M94.72 418A232.2 232.2 0 0 1 91.61 413.77M94.72 418L87.29 423.59M91.61 413.77L84.06 419.19M106.8 418.37A222.9 222.9 0 0 1 100.65 410.38M106.8 418.37L99.57 424.21M100.65 410.38L93.15 415.89M82.86 400.66A232.2 232.2 0 0 1 80.14 396.17M82.86 400.66L74.95 405.56M80.14 396.17L72.13 400.89M93.47 400.02A222.9 222.9 0 0 1 89.44 393.61M93.47 400.02L77.88 410.17M89.44 393.61L81.49 398.42M103.94 398.96A213.6 213.6 0 0 1 99.3 391.89M103.94 398.96L80.92 414.72M99.3 391.89L91.43 396.83M118.41 403.05A204.3 204.3 0 0 1 109.36 390.34M118.41 403.05L103.68 414.41M109.36 390.34L101.59 395.44M181.95 348.24L113.77 396.78" fill="none" stroke="#1f8060" stroke-width="1.1" stroke-linecap="butt"/>
<path d="M70.31 377.6A232.2 232.2 0 0 1 68.11 372.83M70.31 377.6L61.9 381.58M68.11 372.83L59.62 376.62M80.92 378.16A222.9 222.9 0 0 1 77.65 371.34M80.92 378.16L64.29 386.49M77.65 371.34L69.2 375.22M91.45 378.29A213.6 213.6 0 0 1 87.64 370.74M91.45 378.29L66.79 391.35M87.64 370.74L79.25 374.76M101.88 378A204.3 204.3 0 0 1 97.81 370.34M101.88 378L69.41 396.15M97.81 370.34L89.51 374.53M165.5 339.27L99.8 374.19" fill="none" stroke="#c0b8f0" stroke-width="1.1" stroke-linecap="butt"/>
<path d="M64.05 363.14A232.2 232.2 0 0 1 62.19 358.23M64.05 363.14L55.4 366.54M62.19 358.23L53.46 361.43M58.8 348.29A232.2 232.2 0 0 1 57.27 343.26M58.8 348.29L49.93 351.09M57.27 343.26L48.34 345.86M69.24 350.27A222.9 222.9 0 0 1 66.92 343.07M69.24 350.27L51.64 356.28M66.92 343.07L58.02 345.78M80.5 354.09A213.6 213.6 0 0 1 76.9 343.83M80.5 354.09L63.11 360.69M76.9 343.83L68.05 346.68M53.38 327.99A232.2 232.2 0 0 1 52.31 322.85M53.38 327.99L44.29 329.98M52.31 322.85L43.19 324.63M50.53 312.49A232.2 232.2 0 0 1 49.82 307.29M50.53 312.49L41.33 313.86M49.82 307.29L40.59 308.45M60.53 316.1A222.9 222.9 0 0 1 59.37 308.63M60.53 316.1L42.2 319.26M59.37 308.63L50.16 309.89M71.04 321.65A213.6 213.6 0 0 1 69.11 310.95M71.04 321.65L52.83 325.42M69.11 310.95L59.92 312.37M81.67 326.52A204.3 204.3 0 0 1 79.16 314.65M81.67 326.52L45.52 335.3M79.16 314.65L70.01 316.31M91.8 328.6A195 195 0 0 1 89.43 318.68M91.8 328.6L46.87 340.6M89.43 318.68L80.33 320.61M104.96 339.75A185.7 185.7 0 0 1 99.59 321.49M104.96 339.75L78.63 348.98M99.59 321.49L90.55 323.66M117.5 346.45A176.4 176.4 0 0 1 110.97 328.07M117.5 346.45L57.45 371.6M110.97 328.07L102.04 330.69M49.22 302.07A232.2 232.2 0 0 1 48.74 296.84M49.22 302.07L39.97 303.02M48.74 296.84L39.47 297.58M48.14 286.35A232.2 232.2 0 0 1 48.02 281.1M48.14 286.35L38.85 286.67M48.02 281.1L38.72 281.21M48.01 275.84A232.2 232.2 0 0 1 48.13 270.59M48.01 275.84L38.71 275.74M48.13 270.59L38.83 270.28M57.36 283.5A222.9 222.9 0 0 1 57.35 273.42M57.36 283.5L48.06 283.72M57.35 273.42L48.06 273.22M66.95 290.53A213.6 213.6 0 0 1 66.6 278.46M66.95 290.53L39.1 292.13M66.6 278.46L57.3 278.46M48.71 260.1A232.2 232.2 0 0 1 49.19 254.87M48.71 260.1L39.44 259.37M49.19 254.87L39.93 253.93M51.31 239.25A232.2 232.2 0 0 1 52.25 234.09M51.31 239.25L42.14 237.69M52.25 234.09L43.12 232.32M59.68 245.8A222.9 222.9 0 0 1 60.91 238.33M59.68 245.8L41.28 243.09M60.91 238.33L51.76 236.67M55.77 218.73A232.2 232.2 0 0 1 57.18 213.67M55.77 218.73L46.78 216.34M57.18 213.67L48.24 211.08M58.7 208.64A232.2 232.2 0 0 1 60.33 203.64M58.7 208.64L49.82 205.85M60.33 203.64L51.52 200.65M65.42 218.68A222.9 222.9 0 0 1 68.34 209.03M65.42 218.68L56.46 216.19M68.34 209.03L59.5 206.14M72.56 228.18A213.6 213.6 0 0 1 75.73 216.53M72.56 228.18L45.44 221.64M75.73 216.53L66.83 213.84M80.57 234.87A204.3 204.3 0 0 1 83.04 224.77M80.57 234.87L44.22 226.96M83.04 224.77L74.06 222.33M87.79 246.6A195 195 0 0 1 90.77 232.01M87.79 246.6L60.27 242.06M90.77 232.01L81.74 229.8M95.92 255.39A185.7 185.7 0 0 1 98.26 241.14M95.92 255.39L40.55 248.5M98.26 241.14L89.14 239.28M104.51 262.49A176.4 176.4 0 0 1 106.13 249.74M104.51 262.49L48.94 257.48M106.13 249.74L96.95 248.24M113.36 268.97A167.1 167.1 0 0 1 114.43 257.27M113.36 268.97L39.08 264.82M114.43 257.27L105.2 256.1M122.47 282.88A157.8 157.8 0 0 1 123.05 263.96M122.47 282.88L66.69 284.5M123.05 263.96L113.79 263.11M132.32 291.83A148.5 148.5 0 0 1 131.77 273.7M132.32 291.83L48.97 299.45M131.77 273.7L122.48 273.41M149.03 324.9A139.2 139.2 0 0 1 141.06 282.49M149.03 324.9L113.98 337.35M141.06 282.49L131.77 282.77M152.53 302.29L143.39 304" fill="none" stroke="#5a9a48" stroke-width="1.1" stroke-linecap="butt"/>
<path d="M273.05 272.51L265.98 266.78" stroke="#111" stroke-width="1.1"/>
<g font-family="Liberation Sans, sans-serif" font-size="3.0" fill="#474747">
<text x="69.69" y="156.52" transform="rotate(390.05 69.69 156.52)" text-anchor="end" dominant-baseline="central">Bnig28s.2</text>
<text x="72.5" y="151.79" transform="rotate(391.35 72.5 151.79)" text-anchor="end" dominant-baseline="central">Bn1g97b.2</text>
<text x="75.41" y="147.12" transform="rotate(392.64 75.41 147.12)" text-anchor="end" dominant-baseline="central">AtYgb65.1</text>
<text x="78.43" y="142.52" transform="rotate(393.94 78.43 142.52)" text-anchor="end" dominant-baseline="central">CsYgb4b.1</text>
<text x="81.56" y="137.99" transform="rotate(395.24 81.56 137.99)" text-anchor="end" dominant-baseline="central">AtYgb61.3</text>
<text x="84.78" y="133.53" transform="rotate(396.53 84.78 133.53)" text-anchor="end" dominant-baseline="central">Bnigeb7.3</text>
<text x="88.11" y="129.15" transform="rotate(397.83 88.11 129.15)" text-anchor="end" dominant-baseline="central">CsYgb8s.1</text>
<text x="91.53" y="124.84" transform="rotate(399.12 91.53 124.84)" text-anchor="end" dominant-baseline="central">Unit6Bb</text>
<text x="95.05" y="120.61" transform="rotate(400.42 95.05 120.61)" text-anchor="end" dominant-baseline="central">AtYgb3H.3</text>
<text x="98.66" y="116.46" transform="rotate(401.72 98.66 116.46)" text-anchor="end" dominant-baseline="central">Bnigeb4.2</text>
<text x="102.37" y="112.4" transform="rotate(403.01 102.37 112.4)" text-anchor="end" dominant-baseline="central">CsYgb5a.3</text>
<text x="106.17" y="108.42" transform="rotate(404.31 106.17 108.42)" text-anchor="end" dominant-baseline="central">Bn1g8H.1</text>
<text x="110.06" y="104.52" transform="rotate(405.61 110.06 104.52)" text-anchor="end" dominant-baseline="central">CsYgb9s.1</text>
<text x="114.03" y="100.72" transform="rotate(406.9 114.03 100.72)" text-anchor="end" dominant-baseline="central">CsYgb8s.2</text>
<text x="118.09" y="97.01" transform="rotate(408.2 118.09 97.01)" text-anchor="end" dominant-baseline="central">Bnigeb8.1</text>
<text x="122.24" y="93.38" transform="rotate(409.49 122.24 93.38)" text-anchor="end" dominant-baseline="central">Bnig88.1</text>
<text x="126.46" y="89.86" transform="rotate(410.79 126.46 89.86)" text-anchor="end" dominant-baseline="central">AtYgb3b.1</text>
<text x="130.76" y="86.43" transform="rotate(412.09 130.76 86.43)" text-anchor="end" dominant-baseline="central">UnH2Ba</text>
<text x="135.14" y="83.1" transform="rotate(413.38 135.14 83.1)" text-anchor="end" dominant-baseline="central">Unit2Ba</text>
<text x="139.59" y="79.87" transform="rotate(414.68 139.59 79.87)" text-anchor="end" dominant-baseline="central">UnH2Ba</text>
<text x="144.12" y="76.74" transform="rotate(415.98 144.12 76.74)" text-anchor="end" dominant-baseline="central">Bnig28H.3</text>
<text x="148.71" y="73.71" transform="rotate(417.27 148.71 73.71)" text-anchor="end" dominant-baseline="central">CsYgb4b.1</text>
<text x="153.38" y="70.79" transform="rotate(418.57 153.38 70.79)" text-anchor="end" dominant-baseline="central">Unit8Bb</text>
<text x="158.1" y="67.97" transform="rotate(419.86 158.1 67.97)" text-anchor="end" dominant-baseline="central">UnH4Ha</text>
<text x="162.89" y="65.26" transform="rotate(421.16 162.89 65.26)" text-anchor="end" dominant-baseline="central">CsYgb2b.3</text>
<text x="167.74" y="62.66" transform="rotate(422.46 167.74 62.66)" text-anchor="end" dominant-baseline="central">Bn1g85a.1</text>
<text x="172.65" y="60.17" transform="rotate(423.75 172.65 60.17)" text-anchor="end" dominant-baseline="central">Bnig5a.1</text>
<text x="177.61" y="57.8" transform="rotate(425.05 177.61 57.8)" text-anchor="end" dominant-baseline="central">AtYgb4b.1</text>
<text x="182.63" y="55.53" transform="rotate(426.35 182.63 55.53)" text-anchor="end" dominant-baseline="central">AtYgb7b.1</text>
<text x="187.69" y="53.38" transform="rotate(427.64 187.69 53.38)" text-anchor="end" dominant-baseline="central">AtYgb3s.1</text>
<text x="192.8" y="51.35" transform="rotate(428.94 192.8 51.35)" text-anchor="end" dominant-baseline="central">CsYgb42.2</text>
<text x="197.96" y="49.43" transform="rotate(430.24 197.96 49.43)" text-anchor="end" dominant-baseline="central">Bn1g40b.1</text>
<text x="203.16" y="47.63" transform="rotate(431.53 203.16 47.63)" text-anchor="end" dominant-baseline="central">Bnigeb6.1</text>
<text x="208.4" y="45.94" transform="rotate(432.83 208.4 45.94)" text-anchor="end" dominant-baseline="central">Bnig08a.1</text>
<text x="213.67" y="44.38" transform="rotate(434.12 213.67 44.38)" text-anchor="end" dominant-baseline="central">Bn1g44b.3</text>
<text x="218.98" y="42.93" transform="rotate(435.42 218.98 42.93)" text-anchor="end" dominant-baseline="central">Bnig86s.1</text>
<text x="224.32" y="41.61" transform="rotate(436.72 224.32 41.61)" text-anchor="end" dominant-baseline="central">Bnigeb8.1</text>
<text x="229.69" y="40.4" transform="rotate(438.01 229.69 40.4)" text-anchor="end" dominant-baseline="central">AtYgb6b.2</text>
<text x="235.09" y="39.32" transform="rotate(439.31 235.09 39.32)" text-anchor="end" dominant-baseline="central">Bnig4H.3</text>
<text x="240.5" y="38.36" transform="rotate(440.61 240.5 38.36)" text-anchor="end" dominant-baseline="central">Bnig37H.1</text>
<text x="245.94" y="37.53" transform="rotate(441.9 245.94 37.53)" text-anchor="end" dominant-baseline="central">CsYgb4a.1</text>
<text x="251.4" y="36.81" transform="rotate(443.2 251.4 36.81)" text-anchor="end" dominant-baseline="central">CsYgb6a.3</text>
<text x="256.87" y="36.22" transform="rotate(444.49 256.87 36.22)" text-anchor="end" dominant-baseline="central">Bnig44s.1</text>
<text x="262.35" y="35.76" transform="rotate(445.79 262.35 35.76)" text-anchor="end" dominant-baseline="central">CsYgb46.1</text>
<text x="267.84" y="35.41" transform="rotate(447.09 267.84 35.41)" text-anchor="end" dominant-baseline="central">Unit4Ba</text>
<text x="273.34" y="35.2" transform="rotate(448.38 273.34 35.2)" text-anchor="end" dominant-baseline="central">UnH7Ba</text>
<text x="278.84" y="35.1" transform="rotate(449.68 278.84 35.1)" text-anchor="end" dominant-baseline="central">CsYgb8s.2</text>
<text x="284.34" y="35.14" transform="rotate(-89.02 284.34 35.14)" text-anchor="start" dominant-baseline="central">CsYgb2a.1</text>
<text x="289.84" y="35.29" transform="rotate(-87.73 289.84 35.29)" text-anchor="start" dominant-baseline="central">AtYgb6H.1</text>
<text x="295.34" y="35.57" transform="rotate(-86.43 295.34 35.57)" text-anchor="start" dominant-baseline="central">Bnig60b.2</text>
<text x="300.83" y="35.98" transform="rotate(-85.13 300.83 35.98)" text-anchor="start" dominant-baseline="central">Bn1g28a.1</text>
<text x="306.3" y="36.5" transform="rotate(-83.84 306.3 36.5)" text-anchor="start" dominant-baseline="central">CsYgb4a.1</text>
<text x="311.77" y="37.16" transform="rotate(-82.54 311.77 37.16)" text-anchor="start" dominant-baseline="central">Unit1Ha</text>
<text x="317.21" y="37.93" transform="rotate(-81.25 317.21 37.93)" text-anchor="start" dominant-baseline="central">Bnigeb6.2</text>
<text x="322.64" y="38.83" transform="rotate(-79.95 322.64 38.83)" text-anchor="start" dominant-baseline="central">CsYgb0s.3</text>
<text x="328.05" y="39.85" transform="rotate(-78.65 328.05 39.85)" text-anchor="start" dominant-baseline="central">CsYgb27.1</text>
<text x="333.43" y="41" transform="rotate(-77.36 333.43 41)" text-anchor="start" dominant-baseline="central">Bn1g03a.3</text>
<text x="338.78" y="42.26" transform="rotate(-76.06 338.78 42.26)" text-anchor="start" dominant-baseline="central">Bnig62b.1</text>
<text x="344.11" y="43.65" transform="rotate(-74.76 344.11 43.65)" text-anchor="start" dominant-baseline="central">Bnig54.2</text>
<text x="349.4" y="45.15" transform="rotate(-73.47 349.4 45.15)" text-anchor="start" dominant-baseline="central">Bn1g17a.1</text>
<text x="354.66" y="46.78" transform="rotate(-72.17 354.66 46.78)" text-anchor="start" dominant-baseline="central">CsYgb1a.2</text>
<text x="359.88" y="48.52" transform="rotate(-70.88 359.88 48.52)" text-anchor="start" dominant-baseline="central">AtYgb3a.1</text>
<text x="365.05" y="50.38" transform="rotate(-69.58 365.05 50.38)" text-anchor="start" dominant-baseline="central">Bnig7H.1</text>
<text x="370.19" y="52.36" transform="rotate(-68.28 370.19 52.36)" text-anchor="start" dominant-baseline="central">AtYgb3a.1</text>
<text x="375.28" y="54.46" transform="rotate(-66.99 375.28 54.46)" text-anchor="start" dominant-baseline="central">Bnigeb4.1</text>
<text x="380.32" y="56.66" transform="rotate(-65.69 380.32 56.66)" text-anchor="start" dominant-baseline="central">Bn1g40b.2</text>
<text x="385.31" y="58.98" transform="rotate(-64.39 385.31 58.98)" text-anchor="start" dominant-baseline="central">Bnig6s.3</text>
<text x="390.24" y="61.42" transform="rotate(-63.1 390.24 61.42)" text-anchor="start" dominant-baseline="central">AtYgb5a.2</text>
<text x="395.12" y="63.96" transform="rotate(-61.8 395.12 63.96)" text-anchor="start" dominant-baseline="central">AtYgb7a.1</text>
<text x="399.94" y="66.62" transform="rotate(-60.51 399.94 66.62)" text-anchor="start" dominant-baseline="central">Bn1g7H.2</text>
<text x="404.7" y="69.38" transform="rotate(-59.21 404.7 69.38)" text-anchor="start" dominant-baseline="central">CsYgb8a.2</text>
<text x="409.39" y="72.25" transform="rotate(-57.91 409.39 72.25)" text-anchor="start" dominant-baseline="central">AtYgb2b.2</text>
<text x="414.02" y="75.23" transform="rotate(-56.62 414.02 75.23)" text-anchor="start" dominant-baseline="central">CsYgb2b.3</text>
<text x="418.58" y="78.31" transform="rotate(-55.32 418.58 78.31)" text-anchor="start" dominant-baseline="central">AtYgb6a.2</text>
<text x="423.07" y="81.49" transform="rotate(-54.02 423.07 81.49)" text-anchor="start" dominant-baseline="central">Bn1g6.1</text>
<text x="427.48" y="84.77" transform="rotate(-52.73 427.48 84.77)" text-anchor="start" dominant-baseline="central">Bn1g67a.1</text>
<text x="431.82" y="88.15" transform="rotate(-51.43 431.82 88.15)" text-anchor="start" dominant-baseline="central">AtYgb0s.3</text>
<text x="436.09" y="91.63" transform="rotate(-50.13 436.09 91.63)" text-anchor="start" dominant-baseline="central">Unit4Ba</text>
<text x="440.27" y="95.2" transform="rotate(-48.84 440.27 95.2)" text-anchor="start" dominant-baseline="central">CsYgb34.2</text>
<text x="444.37" y="98.87" transform="rotate(-47.54 444.37 98.87)" text-anchor="start" dominant-baseline="central">Bnig77.1</text>
<text x="448.39" y="102.63" transform="rotate(-46.25 448.39 102.63)" text-anchor="start" dominant-baseline="central">CsYgb8s.3</text>
<text x="452.32" y="106.48" transform="rotate(-44.95 452.32 106.48)" text-anchor="start" dominant-baseline="central">Bnigeb4.1</text>
<text x="456.16" y="110.42" transform="rotate(-43.65 456.16 110.42)" text-anchor="start" dominant-baseline="central">Bn1g8.3</text>
<text x="459.92" y="114.44" transform="rotate(-42.36 459.92 114.44)" text-anchor="start" dominant-baseline="central">Unit9Bb</text>
<text x="463.58" y="118.55" transform="rotate(-41.06 463.58 118.55)" text-anchor="start" dominant-baseline="central">Bn1g48s.2</text>
<text x="467.14" y="122.74" transform="rotate(-39.76 467.14 122.74)" text-anchor="start" dominant-baseline="central">Bnigeb0.3</text>
<text x="470.61" y="127.01" transform="rotate(-38.47 470.61 127.01)" text-anchor="start" dominant-baseline="central">AtYgb0b.1</text>
<text x="473.99" y="131.36" transform="rotate(-37.17 473.99 131.36)" text-anchor="start" dominant-baseline="central">Unit5Ha</text>
<text x="477.26" y="135.78" transform="rotate(-35.88 477.26 135.78)" text-anchor="start" dominant-baseline="central">AtYgb0s.1</text>
<text x="480.44" y="140.27" transform="rotate(-34.58 480.44 140.27)" text-anchor="start" dominant-baseline="central">Bnig09H.2</text>
<text x="483.51" y="144.84" transform="rotate(-33.28 483.51 144.84)" text-anchor="start" dominant-baseline="central">UnH7Ba</text>
<text x="486.48" y="149.47" transform="rotate(-31.99 486.48 149.47)" text-anchor="start" dominant-baseline="central">Bn1g46a.1</text>
<text x="489.34" y="154.17" transform="rotate(-30.69 489.34 154.17)" text-anchor="start" dominant-baseline="central">Bn1g8H.3</text>
<text x="492.09" y="158.93" transform="rotate(-29.39 492.09 158.93)" text-anchor="start" dominant-baseline="central">UnH4Ha</text>
<text x="494.74" y="163.76" transform="rotate(-28.1 494.74 163.76)" text-anchor="start" dominant-baseline="central">AtYgb3s.3</text>
<text x="497.27" y="168.64" transform="rotate(-26.8 497.27 168.64)" text-anchor="start" dominant-baseline="central">CsYgb19.1</text>
<text x="499.7" y="173.58" transform="rotate(-25.51 499.7 173.58)" text-anchor="start" dominant-baseline="central">CsYgb5a.1</text>
<text x="502.01" y="178.57" transform="rotate(-24.21 502.01 178.57)" text-anchor="start" dominant-baseline="central">Bnig08s.1</text>
<text x="504.21" y="183.62" transform="rotate(-22.91 504.21 183.62)" text-anchor="start" dominant-baseline="central">Bnig17b.2</text>
<text x="506.3" y="188.71" transform="rotate(-21.62 506.3 188.71)" text-anchor="start" dominant-baseline="central">CsYgb0a.1</text>
<text x="508.27" y="193.85" transform="rotate(-20.32 508.27 193.85)" text-anchor="start" dominant-baseline="central">Bnig63a.1</text>
<text x="510.12" y="199.03" transform="rotate(-19.02 510.12 199.03)" text-anchor="start" dominant-baseline="central">Bn1g71a.1</text>
<text x="511.85" y="204.25" transform="rotate(-17.73 511.85 204.25)" text-anchor="start" dominant-baseline="central">Bnig20b.1</text>
<text x="513.47" y="209.51" transform="rotate(-16.43 513.47 209.51)" text-anchor="start" dominant-baseline="central">Unit6Ha</text>
<text x="514.96" y="214.8" transform="rotate(-15.13 514.96 214.8)" text-anchor="start" dominant-baseline="central">Bn1g81s.2</text>
<text x="516.34" y="220.13" transform="rotate(-13.84 516.34 220.13)" text-anchor="start" dominant-baseline="central">Bn1g90b.1</text>
<text x="517.6" y="225.49" transform="rotate(-12.54 517.6 225.49)" text-anchor="start" dominant-baseline="central">Unit4Bb</text>
<text x="518.73" y="230.87" transform="rotate(-11.25 518.73 230.87)" text-anchor="start" dominant-baseline="central">AtYgb6s.2</text>
<text x="519.74" y="236.28" transform="rotate(-9.95 519.74 236.28)" text-anchor="start" dominant-baseline="central">Bn1g38s.1</text>
<text x="520.63" y="241.71" transform="rotate(-8.65 520.63 241.71)" text-anchor="start" dominant-baseline="central">CsYgb8a.2</text>
<text x="521.4" y="247.16" transform="rotate(-7.36 521.4 247.16)" text-anchor="start" dominant-baseline="central">Unit9Ba</text>
<text x="522.04" y="252.62" transform="rotate(-6.06 522.04 252.62)" text-anchor="start" dominant-baseline="central">Bnig0a.1</text>
<text x="522.56" y="258.1" transform="rotate(-4.76 522.56 258.1)" text-anchor="start" dominant-baseline="central">AtYgb50.3</text>
<text x="522.95" y="263.59" transform="rotate(-3.47 522.95 263.59)" text-anchor="start" dominant-baseline="central">Bnig86a.2</text>
<text x="523.23" y="269.08" transform="rotate(-2.17 523.23 269.08)" text-anchor="start" dominant-baseline="central">UnH9Bb</text>
<text x="523.37" y="274.58" transform="rotate(-0.88 523.37 274.58)" text-anchor="start" dominant-baseline="central">AtYgb0b.1</text>
<text x="523.39" y="280.09" transform="rotate(0.42 523.39 280.09)" text-anchor="start" dominant-baseline="central">UnH3Ba</text>
<text x="523.29" y="285.59" transform="rotate(1.72 523.29 285.59)" text-anchor="start" dominant-baseline="central">UnH8Ba</text>
<text x="523.06" y="291.08" transform="rotate(3.01 523.06 291.08)" text-anchor="start" dominant-baseline="central">CsYgb9a.1</text>
<text x="522.71" y="296.58" transform="rotate(4.31 522.71 296.58)" text-anchor="start" dominant-baseline="central">Bnigeb4.2</text>
<text x="522.24" y="302.06" transform="rotate(5.61 522.24 302.06)" text-anchor="start" dominant-baseline="central">Bnig83a.3</text>
<text x="521.64" y="307.53" transform="rotate(6.9 521.64 307.53)" text-anchor="start" dominant-baseline="central">Bnig95H.1</text>
<text x="520.91" y="312.98" transform="rotate(8.2 520.91 312.98)" text-anchor="start" dominant-baseline="central">Bnig67a.2</text>
<text x="520.07" y="318.42" transform="rotate(9.49 520.07 318.42)" text-anchor="start" dominant-baseline="central">Bnigeb9.2</text>
<text x="519.1" y="323.83" transform="rotate(10.79 519.1 323.83)" text-anchor="start" dominant-baseline="central">Unit1Bb</text>
<text x="518.01" y="329.23" transform="rotate(12.09 518.01 329.23)" text-anchor="start" dominant-baseline="central">Bn1g61a.2</text>
<text x="516.8" y="334.59" transform="rotate(13.38 516.8 334.59)" text-anchor="start" dominant-baseline="central">Bnig31b.3</text>
<text x="515.46" y="339.93" transform="rotate(14.68 515.46 339.93)" text-anchor="start" dominant-baseline="central">Bnig8s.1</text>
<text x="514.01" y="345.24" transform="rotate(15.98 514.01 345.24)" text-anchor="start" dominant-baseline="central">Bnig62b.2</text>
<text x="512.43" y="350.51" transform="rotate(17.27 512.43 350.51)" text-anchor="start" dominant-baseline="central">AtYgb7a.1</text>
<text x="510.74" y="355.75" transform="rotate(18.57 510.74 355.75)" text-anchor="start" dominant-baseline="central">AtYgb3H.3</text>
<text x="508.93" y="360.94" transform="rotate(19.87 508.93 360.94)" text-anchor="start" dominant-baseline="central">UnH6Ha</text>
<text x="507" y="366.1" transform="rotate(21.16 507 366.1)" text-anchor="start" dominant-baseline="central">Bnig2H.2</text>
<text x="504.96" y="371.2" transform="rotate(22.46 504.96 371.2)" text-anchor="start" dominant-baseline="central">UnH9Ba</text>
<text x="502.8" y="376.26" transform="rotate(23.75 502.8 376.26)" text-anchor="start" dominant-baseline="central">CsYgb97.2</text>
<text x="500.52" y="381.27" transform="rotate(25.05 500.52 381.27)" text-anchor="start" dominant-baseline="central">Bn1g53s.1</text>
<text x="498.14" y="386.23" transform="rotate(26.35 498.14 386.23)" text-anchor="start" dominant-baseline="central">Bn1g32s.2</text>
<text x="495.64" y="391.14" transform="rotate(27.64 495.64 391.14)" text-anchor="start" dominant-baseline="central">Unit6Bb</text>
<text x="493.03" y="395.98" transform="rotate(28.94 493.03 395.98)" text-anchor="start" dominant-baseline="central">Bnig0a.1</text>
<text x="490.32" y="400.77" transform="rotate(30.24 490.32 400.77)" text-anchor="start" dominant-baseline="central">Bn1g9H.2</text>
<text x="487.49" y="405.49" transform="rotate(31.53 487.49 405.49)" text-anchor="start" dominant-baseline="central">Bn1g73b.1</text>
<text x="484.56" y="410.14" transform="rotate(32.83 484.56 410.14)" text-anchor="start" dominant-baseline="central">AtYgb0b.1</text>
<text x="481.53" y="414.73" transform="rotate(34.12 481.53 414.73)" text-anchor="start" dominant-baseline="central">AtYgb3b.1</text>
<text x="478.39" y="419.25" transform="rotate(35.42 478.39 419.25)" text-anchor="start" dominant-baseline="central">Bn1g39s.1</text>
<text x="475.15" y="423.7" transform="rotate(36.72 475.15 423.7)" text-anchor="start" dominant-baseline="central">Unit7Ba</text>
<text x="471.81" y="428.07" transform="rotate(38.01 471.81 428.07)" text-anchor="start" dominant-baseline="central">Bnig65H.3</text>
<text x="468.37" y="432.37" transform="rotate(39.31 468.37 432.37)" text-anchor="start" dominant-baseline="central">Bnigeb0.2</text>
<text x="464.84" y="436.59" transform="rotate(40.61 464.84 436.59)" text-anchor="start" dominant-baseline="central">CsYgb98.1</text>
<text x="461.21" y="440.72" transform="rotate(41.9 461.21 440.72)" text-anchor="start" dominant-baseline="central">Unit4Bb</text>
<text x="457.49" y="444.78" transform="rotate(43.2 457.49 444.78)" text-anchor="start" dominant-baseline="central">UnH3Bb</text>
<text x="453.68" y="448.75" transform="rotate(44.5 453.68 448.75)" text-anchor="start" dominant-baseline="central">Unit3Ba</text>
<text x="449.78" y="452.63" transform="rotate(45.79 449.78 452.63)" text-anchor="start" dominant-baseline="central">Bn1g6H.1</text>
<text x="445.79" y="456.42" transform="rotate(47.09 445.79 456.42)" text-anchor="start" dominant-baseline="central">UnH6Ba</text>
<text x="441.72" y="460.12" transform="rotate(48.38 441.72 460.12)" text-anchor="start" dominant-baseline="central">CsYgb1a.1</text>
<text x="437.56" y="463.73" transform="rotate(49.68 437.56 463.73)" text-anchor="start" dominant-baseline="central">AtYgb48.3</text>
<text x="433.33" y="467.24" transform="rotate(50.98 433.33 467.24)" text-anchor="start" dominant-baseline="central">CsYgb5b.1</text>
<text x="429.01" y="470.65" transform="rotate(52.27 429.01 470.65)" text-anchor="start" dominant-baseline="central">CsYgb3s.1</text>
<text x="424.63" y="473.97" transform="rotate(53.57 424.63 473.97)" text-anchor="start" dominant-baseline="central">CsYgb3s.1</text>
<text x="420.16" y="477.19" transform="rotate(54.87 420.16 477.19)" text-anchor="start" dominant-baseline="central">Bnig62s.1</text>
<text x="415.63" y="480.3" transform="rotate(56.16 415.63 480.3)" text-anchor="start" dominant-baseline="central">Bnig58a.1</text>
<text x="411.02" y="483.32" transform="rotate(57.46 411.02 483.32)" text-anchor="start" dominant-baseline="central">UnH7Ba</text>
<text x="406.35" y="486.22" transform="rotate(58.75 406.35 486.22)" text-anchor="start" dominant-baseline="central">AtYgb0b.1</text>
<text x="401.61" y="489.02" transform="rotate(60.05 401.61 489.02)" text-anchor="start" dominant-baseline="central">Bnig17H.1</text>
<text x="396.82" y="491.72" transform="rotate(61.35 396.82 491.72)" text-anchor="start" dominant-baseline="central">Bnigeb6.2</text>
<text x="391.96" y="494.3" transform="rotate(62.64 391.96 494.3)" text-anchor="start" dominant-baseline="central">Bnig4.1</text>
<text x="387.04" y="496.77" transform="rotate(63.94 387.04 496.77)" text-anchor="start" dominant-baseline="central">UnH6Ba</text>
<text x="382.07" y="499.14" transform="rotate(65.24 382.07 499.14)" text-anchor="start" dominant-baseline="central">AtYgb9b.1</text>
<text x="377.05" y="501.38" transform="rotate(66.53 377.05 501.38)" text-anchor="start" dominant-baseline="central">Bnig39b.3</text>
<text x="371.98" y="503.52" transform="rotate(67.83 371.98 503.52)" text-anchor="start" dominant-baseline="central">Bnig56H.2</text>
<text x="366.86" y="505.54" transform="rotate(69.12 366.86 505.54)" text-anchor="start" dominant-baseline="central">Bnig3b.1</text>
<text x="361.7" y="507.44" transform="rotate(70.42 361.7 507.44)" text-anchor="start" dominant-baseline="central">Bnig6b.1</text>
<text x="356.49" y="509.22" transform="rotate(71.72 356.49 509.22)" text-anchor="start" dominant-baseline="central">CsYgb80.1</text>
<text x="351.25" y="510.89" transform="rotate(73.01 351.25 510.89)" text-anchor="start" dominant-baseline="central">CsYgb7a.2</text>
<text x="345.97" y="512.44" transform="rotate(74.31 345.97 512.44)" text-anchor="start" dominant-baseline="central">Bn1g89a.1</text>
<text x="340.66" y="513.87" transform="rotate(75.61 340.66 513.87)" text-anchor="start" dominant-baseline="central">AtYgb89.1</text>
<text x="335.31" y="515.17" transform="rotate(76.9 335.31 515.17)" text-anchor="start" dominant-baseline="central">AtYgb8b.2</text>
<text x="329.94" y="516.36" transform="rotate(78.2 329.94 516.36)" text-anchor="start" dominant-baseline="central">CsYgb5b.3</text>
<text x="324.54" y="517.42" transform="rotate(79.5 324.54 517.42)" text-anchor="start" dominant-baseline="central">Unit7Bb</text>
<text x="319.12" y="518.37" transform="rotate(80.79 319.12 518.37)" text-anchor="start" dominant-baseline="central">AtYgb6a.1</text>
<text x="313.68" y="519.18" transform="rotate(82.09 313.68 519.18)" text-anchor="start" dominant-baseline="central">Bnigeb1.1</text>
<text x="308.22" y="519.88" transform="rotate(83.38 308.22 519.88)" text-anchor="start" dominant-baseline="central">CsYgb0a.1</text>
<text x="302.75" y="520.45" transform="rotate(84.68 302.75 520.45)" text-anchor="start" dominant-baseline="central">UnH8Ba</text>
<text x="297.26" y="520.9" transform="rotate(85.98 297.26 520.9)" text-anchor="start" dominant-baseline="central">CsYgb9s.3</text>
<text x="291.77" y="521.22" transform="rotate(87.27 291.77 521.22)" text-anchor="start" dominant-baseline="central">Bnigeb1.3</text>
<text x="286.27" y="521.42" transform="rotate(88.57 286.27 521.42)" text-anchor="start" dominant-baseline="central">AtYgb0a.1</text>
<text x="280.77" y="521.5" transform="rotate(89.87 280.77 521.5)" text-anchor="start" dominant-baseline="central">UnH1Ba</text>
<text x="275.27" y="521.45" transform="rotate(271.16 275.27 521.45)" text-anchor="end" dominant-baseline="central">AtYgb3s.3</text>
<text x="269.77" y="521.28" transform="rotate(272.46 269.77 521.28)" text-anchor="end" dominant-baseline="central">Bnigeb8.1</text>
<text x="264.28" y="520.98" transform="rotate(273.75 264.28 520.98)" text-anchor="end" dominant-baseline="central">Bn1g44b.1</text>
<text x="258.79" y="520.56" transform="rotate(275.05 258.79 520.56)" text-anchor="end" dominant-baseline="central">Bnigeb5.2</text>
<text x="253.31" y="520.01" transform="rotate(276.35 253.31 520.01)" text-anchor="end" dominant-baseline="central">AtYgb3a.2</text>
<text x="247.85" y="519.34" transform="rotate(277.64 247.85 519.34)" text-anchor="end" dominant-baseline="central">Bnig62.1</text>
<text x="242.41" y="518.55" transform="rotate(278.94 242.41 518.55)" text-anchor="end" dominant-baseline="central">UnH2Bb</text>
<text x="236.98" y="517.63" transform="rotate(280.24 236.98 517.63)" text-anchor="end" dominant-baseline="central">UnH3Ha</text>
<text x="231.58" y="516.59" transform="rotate(281.53 231.58 516.59)" text-anchor="end" dominant-baseline="central">Bnig7.3</text>
<text x="226.2" y="515.43" transform="rotate(282.83 226.2 515.43)" text-anchor="end" dominant-baseline="central">Bn1g73b.1</text>
<text x="220.85" y="514.15" transform="rotate(284.12 220.85 514.15)" text-anchor="end" dominant-baseline="central">Bnigeb3.1</text>
<text x="215.53" y="512.74" transform="rotate(285.42 215.53 512.74)" text-anchor="end" dominant-baseline="central">AtYgb2H.1</text>
<text x="210.24" y="511.22" transform="rotate(286.72 210.24 511.22)" text-anchor="end" dominant-baseline="central">Bnigeb3.1</text>
<text x="204.99" y="509.58" transform="rotate(288.01 204.99 509.58)" text-anchor="end" dominant-baseline="central">AtYgb9b.3</text>
<text x="199.78" y="507.82" transform="rotate(289.31 199.78 507.82)" text-anchor="end" dominant-baseline="central">Bnigeb9.1</text>
<text x="194.61" y="505.94" transform="rotate(290.61 194.61 505.94)" text-anchor="end" dominant-baseline="central">Bn1g56b.1</text>
<text x="189.48" y="503.95" transform="rotate(291.9 189.48 503.95)" text-anchor="end" dominant-baseline="central">Bnig3H.1</text>
<text x="184.4" y="501.84" transform="rotate(293.2 184.4 501.84)" text-anchor="end" dominant-baseline="central">Bnig21H.3</text>
<text x="179.37" y="499.61" transform="rotate(294.5 179.37 499.61)" text-anchor="end" dominant-baseline="central">Unit5Ba</text>
<text x="174.38" y="497.27" transform="rotate(295.79 174.38 497.27)" text-anchor="end" dominant-baseline="central">Bnig74b.1</text>
<text x="169.46" y="494.82" transform="rotate(297.09 169.46 494.82)" text-anchor="end" dominant-baseline="central">Bnig4s.1</text>
<text x="164.59" y="492.26" transform="rotate(298.38 164.59 492.26)" text-anchor="end" dominant-baseline="central">Bnigeb3.3</text>
<text x="159.78" y="489.59" transform="rotate(299.68 159.78 489.59)" text-anchor="end" dominant-baseline="central">UnH2Ba</text>
<text x="155.03" y="486.81" transform="rotate(300.98 155.03 486.81)" text-anchor="end" dominant-baseline="central">CsYgb2a.2</text>
<text x="150.34" y="483.93" transform="rotate(302.27 150.34 483.93)" text-anchor="end" dominant-baseline="central">Bnig2s.1</text>
<text x="145.72" y="480.94" transform="rotate(303.57 145.72 480.94)" text-anchor="end" dominant-baseline="central">Bn1g8H.2</text>
<text x="141.17" y="477.84" transform="rotate(304.87 141.17 477.84)" text-anchor="end" dominant-baseline="central">Bn1g81a.3</text>
<text x="136.7" y="474.65" transform="rotate(306.16 136.7 474.65)" text-anchor="end" dominant-baseline="central">Bnigeb2.3</text>
<text x="132.29" y="471.35" transform="rotate(307.46 132.29 471.35)" text-anchor="end" dominant-baseline="central">Bn1g59b.3</text>
<text x="127.96" y="467.96" transform="rotate(308.75 127.96 467.96)" text-anchor="end" dominant-baseline="central">Bnigeb0.1</text>
<text x="123.71" y="464.46" transform="rotate(310.05 123.71 464.46)" text-anchor="end" dominant-baseline="central">Unit6Ba</text>
<text x="119.54" y="460.88" transform="rotate(311.35 119.54 460.88)" text-anchor="end" dominant-baseline="central">Bnig64H.3</text>
<text x="115.45" y="457.19" transform="rotate(312.64 115.45 457.19)" text-anchor="end" dominant-baseline="central">Bn1g59s.1</text>
<text x="111.44" y="453.42" transform="rotate(313.94 111.44 453.42)" text-anchor="end" dominant-baseline="central">AtYgb3a.1</text>
<text x="107.52" y="449.56" transform="rotate(315.24 107.52 449.56)" text-anchor="end" dominant-baseline="central">CsYgb7s.1</text>
<text x="103.69" y="445.61" transform="rotate(316.53 103.69 445.61)" text-anchor="end" dominant-baseline="central">Unit7Bb</text>
<text x="99.95" y="441.57" transform="rotate(317.83 99.95 441.57)" text-anchor="end" dominant-baseline="central">AtYgb79.3</text>
<text x="96.31" y="437.45" transform="rotate(319.12 96.31 437.45)" text-anchor="end" dominant-baseline="central">Unit3Bb</text>
<text x="92.75" y="433.25" transform="rotate(320.42 92.75 433.25)" text-anchor="end" dominant-baseline="central">AtYgb6s.2</text>
<text x="89.3" y="428.97" transform="rotate(321.72 89.3 428.97)" text-anchor="end" dominant-baseline="central">UnH4Ba</text>
<text x="85.94" y="424.61" transform="rotate(323.01 85.94 424.61)" text-anchor="end" dominant-baseline="central">Unit9Ba</text>
<text x="82.68" y="420.18" transform="rotate(324.31 82.68 420.18)" text-anchor="end" dominant-baseline="central">Bnig1s.1</text>
<text x="79.52" y="415.68" transform="rotate(325.61 79.52 415.68)" text-anchor="end" dominant-baseline="central">CsYgb9b.3</text>
<text x="76.46" y="411.1" transform="rotate(326.9 76.46 411.1)" text-anchor="end" dominant-baseline="central">CsYgb6a.1</text>
<text x="73.51" y="406.46" transform="rotate(328.2 73.51 406.46)" text-anchor="end" dominant-baseline="central">Bn1g99a.2</text>
<text x="70.66" y="401.75" transform="rotate(329.5 70.66 401.75)" text-anchor="end" dominant-baseline="central">UnH5Bb</text>
<text x="67.92" y="396.98" transform="rotate(330.79 67.92 396.98)" text-anchor="end" dominant-baseline="central">Unit5Ha</text>
<text x="65.29" y="392.15" transform="rotate(332.09 65.29 392.15)" text-anchor="end" dominant-baseline="central">AtYgb19.3</text>
<text x="62.77" y="387.25" transform="rotate(333.38 62.77 387.25)" text-anchor="end" dominant-baseline="central">Bnig7b.1</text>
<text x="60.36" y="382.31" transform="rotate(334.68 60.36 382.31)" text-anchor="end" dominant-baseline="central">Bn1g8H.3</text>
<text x="58.07" y="377.31" transform="rotate(335.98 58.07 377.31)" text-anchor="end" dominant-baseline="central">Bnig56.1</text>
<text x="55.88" y="372.26" transform="rotate(337.27 55.88 372.26)" text-anchor="end" dominant-baseline="central">Bnigeb3.1</text>
<text x="53.81" y="367.16" transform="rotate(338.57 53.81 367.16)" text-anchor="end" dominant-baseline="central">Bnigeb7.3</text>
<text x="51.86" y="362.01" transform="rotate(339.87 51.86 362.01)" text-anchor="end" dominant-baseline="central">UnH8Ba</text>
<text x="50.03" y="356.83" transform="rotate(341.16 50.03 356.83)" text-anchor="end" dominant-baseline="central">Unit3Ha</text>
<text x="48.31" y="351.6" transform="rotate(342.46 48.31 351.6)" text-anchor="end" dominant-baseline="central">Bnig66s.1</text>
<text x="46.71" y="346.34" transform="rotate(343.75 46.71 346.34)" text-anchor="end" dominant-baseline="central">AtYgb4H.1</text>
<text x="45.23" y="341.04" transform="rotate(345.05 45.23 341.04)" text-anchor="end" dominant-baseline="central">Bnigeb0.3</text>
<text x="43.87" y="335.7" transform="rotate(346.35 43.87 335.7)" text-anchor="end" dominant-baseline="central">CsYgb0a.3</text>
<text x="42.63" y="330.34" transform="rotate(347.64 42.63 330.34)" text-anchor="end" dominant-baseline="central">CsYgb65.1</text>
<text x="41.52" y="324.96" transform="rotate(348.94 41.52 324.96)" text-anchor="end" dominant-baseline="central">Bnigeb4.2</text>
<text x="40.52" y="319.54" transform="rotate(350.24 40.52 319.54)" text-anchor="end" dominant-baseline="central">Unit7Bb</text>
<text x="39.65" y="314.11" transform="rotate(351.53 39.65 314.11)" text-anchor="end" dominant-baseline="central">Bnigeb7.1</text>
<text x="38.9" y="308.66" transform="rotate(352.83 38.9 308.66)" text-anchor="end" dominant-baseline="central">Bnig51b.1</text>
<text x="38.28" y="303.19" transform="rotate(354.12 38.28 303.19)" text-anchor="end" dominant-baseline="central">UnH6Ha</text>
<text x="37.78" y="297.71" transform="rotate(355.42 37.78 297.71)" text-anchor="end" dominant-baseline="central">CsYgb2b.3</text>
<text x="37.4" y="292.22" transform="rotate(356.72 37.4 292.22)" text-anchor="end" dominant-baseline="central">UnH6Ba</text>
<text x="37.15" y="286.73" transform="rotate(358.01 37.15 286.73)" text-anchor="end" dominant-baseline="central">Unit2Ba</text>
<text x="37.02" y="281.23" transform="rotate(359.31 37.02 281.23)" text-anchor="end" dominant-baseline="central">UnH1Bb</text>
<text x="37.01" y="275.73" transform="rotate(360.61 37.01 275.73)" text-anchor="end" dominant-baseline="central">Bnigeb3.2</text>
<text x="37.13" y="270.22" transform="rotate(361.9 37.13 270.22)" text-anchor="end" dominant-baseline="central">Bnig14.1</text>
<text x="37.38" y="264.73" transform="rotate(363.2 37.38 264.73)" text-anchor="end" dominant-baseline="central">Bn1g25s.2</text>
<text x="37.75" y="259.24" transform="rotate(364.5 37.75 259.24)" text-anchor="end" dominant-baseline="central">Bn1g43a.3</text>
<text x="38.24" y="253.76" transform="rotate(365.79 38.24 253.76)" text-anchor="end" dominant-baseline="central">CsYgb2b.2</text>
<text x="38.86" y="248.29" transform="rotate(367.09 38.86 248.29)" text-anchor="end" dominant-baseline="central">CsYgb0s.1</text>
<text x="39.6" y="242.84" transform="rotate(368.38 39.6 242.84)" text-anchor="end" dominant-baseline="central">Bnig03s.1</text>
<text x="40.46" y="237.4" transform="rotate(369.68 40.46 237.4)" text-anchor="end" dominant-baseline="central">Bn1g04b.1</text>
<text x="41.45" y="231.99" transform="rotate(370.98 41.45 231.99)" text-anchor="end" dominant-baseline="central">CsYgb3a.2</text>
<text x="42.56" y="226.6" transform="rotate(372.27 42.56 226.6)" text-anchor="end" dominant-baseline="central">AtYgb9H.3</text>
<text x="43.79" y="221.24" transform="rotate(373.57 43.79 221.24)" text-anchor="end" dominant-baseline="central">CsYgb61.1</text>
<text x="45.14" y="215.91" transform="rotate(374.87 45.14 215.91)" text-anchor="end" dominant-baseline="central">AtYgb0H.3</text>
<text x="46.61" y="210.6" transform="rotate(376.16 46.61 210.6)" text-anchor="end" dominant-baseline="central">CsYgb0s.1</text>
<text x="48.2" y="205.34" transform="rotate(377.46 48.2 205.34)" text-anchor="end" dominant-baseline="central">Bnig95b.2</text>
<text x="49.91" y="200.11" transform="rotate(378.75 49.91 200.11)" text-anchor="end" dominant-baseline="central">Bn1g45a.3</text>
</g>
<g font-family="Liberation Serif, serif" font-weight="bold" font-size="11" fill="#111" text-anchor="middle" dominant-baseline="central">
<text transform="translate(58.49 115.44) rotate(306.3) scale(0.85 1)">F</text>
<text transform="translate(136.47 44.67) rotate(328.4) scale(0.85 1)">G</text>
<text transform="translate(295.41 6.22) rotate(3.2) scale(0.85 1)">H</text>
<text transform="translate(378.34 25.27) rotate(21.2) scale(0.85 1)">N</text>
<text transform="translate(393.77 30.81) rotate(24.65) scale(0.85 1)">I</text>
<text transform="translate(428.94 49.26) rotate(33) scale(0.85 1)">J</text>
<text transform="translate(472.49 82.97) rotate(44.55) scale(0.85 1)">K</text>
<text transform="translate(537.38 186.72) rotate(70.4) scale(0.85 1)">L</text>
<text transform="translate(477.92 468.57) rotate(133.9) scale(0.85 1)">E</text>
<text transform="translate(173.21 529.14) rotate(203.1) scale(0.85 1)">A</text>
<text transform="translate(100.98 487.4) rotate(220.6) scale(0.85 1)">O</text>
<text transform="translate(83.77 471.33) rotate(225.5) scale(0.85 1)">M</text>
<text transform="translate(55.19 437.62) rotate(234.7) scale(0.85 1)">B</text>
<text transform="translate(33.88 404.35) rotate(242.9) scale(0.85 1)">C</text>
<text transform="translate(6.77 295.98) rotate(266.3) scale(0.85 1)">D</text>
</g>
</svg></body></html>
